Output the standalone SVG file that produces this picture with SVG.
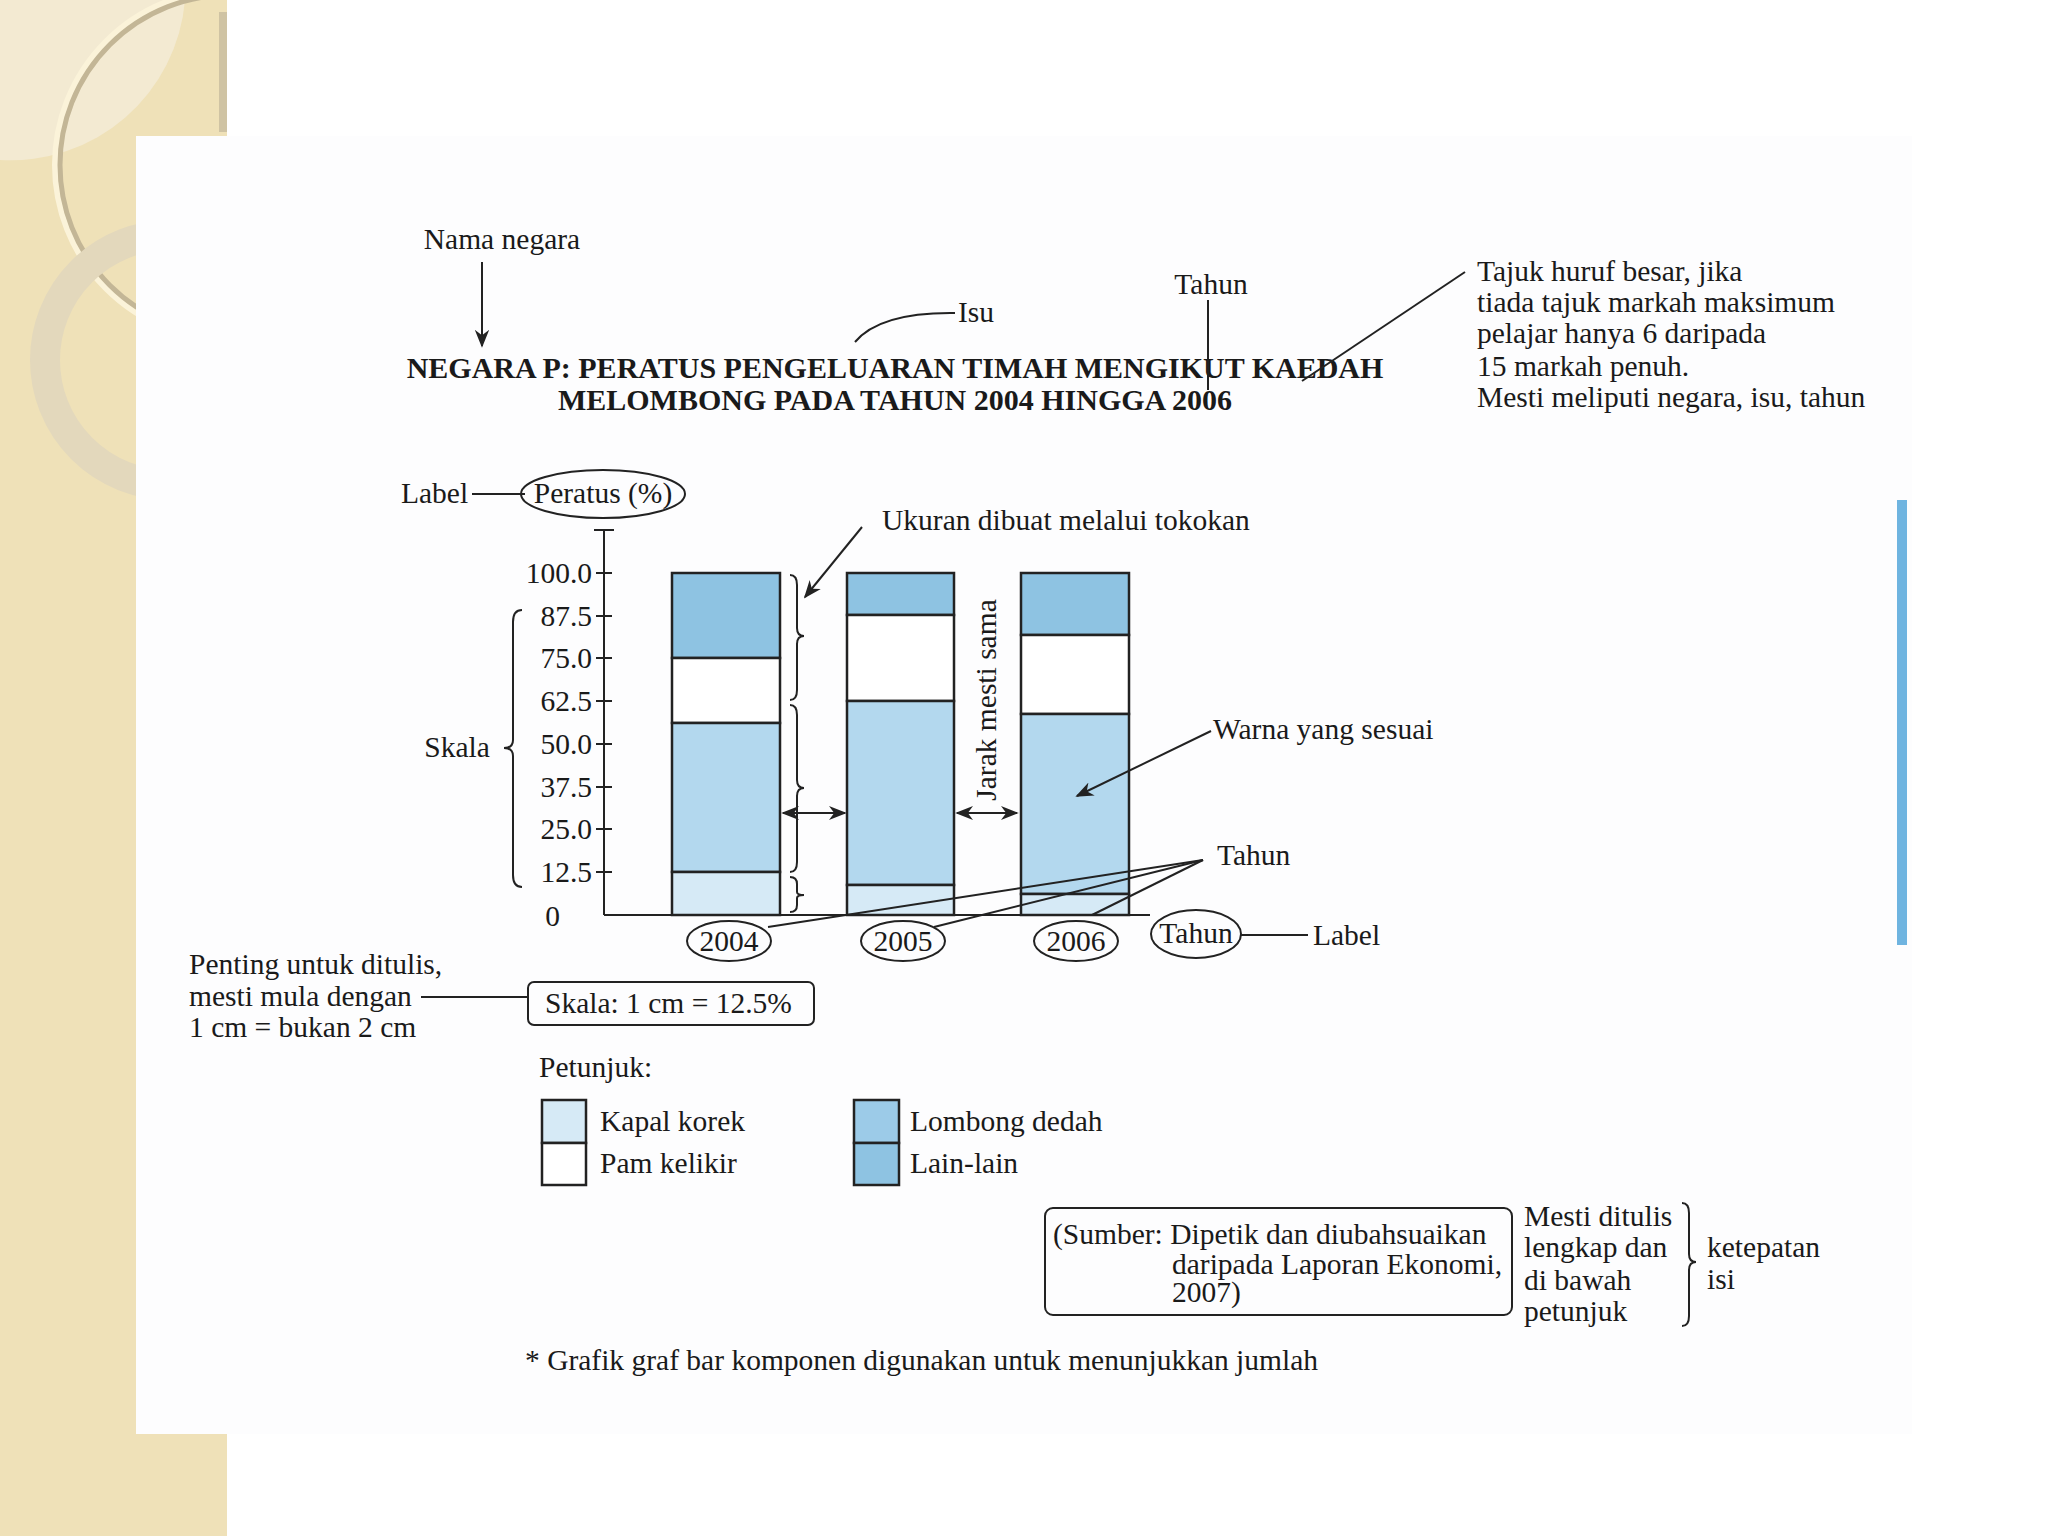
<svg xmlns="http://www.w3.org/2000/svg" width="2048" height="1536" viewBox="0 0 2048 1536">
<defs>
<style>
text{font-family:"Liberation Serif","Times New Roman",serif;font-size:29.5px;fill:#1a1a1a}
.t{font-weight:bold;font-size:30px;text-anchor:middle}
.ln{stroke:#222;stroke-width:2;fill:none}
.bar{stroke:#222;stroke-width:2.5}
.d{fill:#8ec3e2}.m{fill:#b3d8ee}.l{fill:#d6eaf6}.w{fill:#fff}
.r{text-anchor:end}.c{text-anchor:middle}
</style>
<marker id="ah" viewBox="0 0 10 10" refX="9" refY="5" markerWidth="9" markerHeight="9" orient="auto-start-reverse"><path d="M0,1 L10,5 L0,9 L3,5z" fill="#222"/></marker>
<clipPath id="lp"><rect x="0" y="0" width="227" height="1536"/></clipPath>
</defs>
<rect width="2048" height="1536" fill="#fff"/>
<g id="background" clip-path="url(#lp)">
<rect width="227" height="1536" fill="#efe1b8"/>
<path d="M0,0 H185 A175,175 0 0 1 0,160z" fill="#f3ead2"/>
<circle cx="230" cy="165" r="175" fill="none" stroke="#fbf3d9" stroke-width="6"/>
<circle cx="230" cy="165" r="170" fill="none" stroke="#c3b696" stroke-width="5"/>
<circle cx="170" cy="360" r="125" fill="none" stroke="#e3d8bc" stroke-width="30"/>
<rect x="219" y="12" width="8" height="120" fill="#cfc3a3"/>
</g>
<rect x="136" y="136" width="1776" height="1298" fill="#fdfdfe"/>
<rect x="1897" y="500" width="10" height="445" fill="#6fb4e0"/>

<g id="title">
<text class="t" x="895" y="378">NEGARA P: PERATUS PENGELUARAN TIMAH MENGIKUT KAEDAH</text>
<text class="t" x="895" y="410">MELOMBONG PADA TAHUN 2004 HINGGA 2006</text>
</g>
<g id="annotations-top">
<text class="c" x="502" y="249">Nama negara</text>
<text class="c" x="1211" y="294">Tahun</text>
<text x="958" y="322">Isu</text>
<text x="1477" y="281">Tajuk huruf besar, jika</text>
<text x="1477" y="312">tiada tajuk markah maksimum</text>
<text x="1477" y="343">pelajar hanya 6 daripada</text>
<text x="1477" y="376">15 markah penuh.</text>
<text x="1477" y="407">Mesti meliputi negara, isu, tahun</text>
</g>
<g id="axes">
<line class="ln" x1="604" y1="530" x2="604" y2="915"/>
<line class="ln" x1="594" y1="530" x2="614" y2="530"/>
<line class="ln" x1="604" y1="915" x2="1150" y2="915"/>
<g class="ln">
<line x1="596" y1="573" x2="612" y2="573"/><line x1="596" y1="616" x2="612" y2="616"/><line x1="596" y1="658" x2="612" y2="658"/><line x1="596" y1="701" x2="612" y2="701"/><line x1="596" y1="744" x2="612" y2="744"/><line x1="596" y1="787" x2="612" y2="787"/><line x1="596" y1="829" x2="612" y2="829"/><line x1="596" y1="872" x2="612" y2="872"/>
</g>
<text class="r" x="592" y="583">100.0</text><text class="r" x="592" y="626">87.5</text><text class="r" x="592" y="668">75.0</text><text class="r" x="592" y="711">62.5</text><text class="r" x="592" y="754">50.0</text><text class="r" x="592" y="797">37.5</text><text class="r" x="592" y="839">25.0</text><text class="r" x="592" y="882">12.5</text><text class="r" x="560" y="926">0</text>
<text x="401" y="503">Label</text>
<line class="ln" x1="472" y1="494" x2="525" y2="494"/>
<ellipse class="ln" cx="603" cy="494" rx="82" ry="24"/>
<text class="c" x="603" y="503">Peratus (%)</text>
<text class="c" x="457" y="757">Skala</text>
<path class="ln" d="M522,610 Q513,610 513,622 V740 Q513,748 504,748 Q513,748 513,756 V875 Q513,887 522,887"/>
</g>
<g id="bars">
<rect class="bar d" x="672" y="573" width="108" height="85"/><rect class="bar w" x="672" y="658" width="108" height="65"/><rect class="bar m" x="672" y="723" width="108" height="149"/><rect class="bar l" x="672" y="872" width="108" height="43"/>
<rect class="bar d" x="847" y="573" width="107" height="42"/><rect class="bar w" x="847" y="615" width="107" height="86"/><rect class="bar m" x="847" y="701" width="107" height="184"/><rect class="bar l" x="847" y="885" width="107" height="30"/>
<rect class="bar d" x="1021" y="573" width="108" height="62"/><rect class="bar w" x="1021" y="635" width="108" height="79"/><rect class="bar m" x="1021" y="714" width="108" height="180"/><rect class="bar l" x="1021" y="894" width="108" height="21"/>
</g>
<g id="braces" class="ln">
<path d="M790,575 Q797,575 797,585 V628 Q797,636 804,636 Q797,636 797,644 V690 Q797,700 790,700"/>
<path d="M790,705 Q797,705 797,715 V780 Q797,788 804,788 Q797,788 797,796 V862 Q797,872 790,872"/>
<path d="M790,877 Q797,877 797,884 V892 Q797,895 804,895 Q797,895 797,898 V905 Q797,912 790,912"/>
</g>
<g id="years">
<ellipse class="ln" cx="729" cy="941" rx="42" ry="20"/><text class="c" x="729" y="951">2004</text>
<ellipse class="ln" cx="903" cy="941" rx="42" ry="20"/><text class="c" x="903" y="951">2005</text>
<ellipse class="ln" cx="1076" cy="941" rx="42" ry="20"/><text class="c" x="1076" y="951">2006</text>
<ellipse class="ln" cx="1196" cy="934" rx="45" ry="24"/><text class="c" x="1196" y="943">Tahun</text>
<line class="ln" x1="1241" y1="935" x2="1308" y2="935"/>
<text x="1313" y="945">Label</text>
</g>
<g id="connectors">
<line class="ln" x1="482" y1="262" x2="482" y2="346" marker-end="url(#ah)"/>
<line class="ln" x1="1208" y1="300" x2="1208" y2="390"/>
<path class="ln" d="M955,313 Q880,312 855,342"/>
<line class="ln" x1="1465" y1="272" x2="1302" y2="381"/>
<line class="ln" x1="862" y1="527" x2="805" y2="597" marker-end="url(#ah)"/>
<line class="ln" x1="1211" y1="731" x2="1077" y2="796" marker-end="url(#ah)"/>
<line class="ln" x1="783" y1="813" x2="845" y2="813" marker-start="url(#ah)" marker-end="url(#ah)"/>
<line class="ln" x1="957" y1="813" x2="1017" y2="813" marker-start="url(#ah)" marker-end="url(#ah)"/>
<line class="ln" x1="1203" y1="860" x2="768" y2="927"/>
<line class="ln" x1="1203" y1="860" x2="934" y2="927"/>
<line class="ln" x1="1203" y1="860" x2="1092" y2="915"/>
<line class="ln" x1="421" y1="997" x2="528" y2="997"/>
</g>
<g id="chart-notes">
<text x="882" y="530">Ukuran dibuat melalui tokokan</text>
<text x="1213" y="739">Warna yang sesuai</text>
<text x="1217" y="865">Tahun</text>
<text class="c" transform="translate(996,700) rotate(-90)">Jarak mesti sama</text>
</g>
<g id="scale-note">
<text x="189" y="974">Penting untuk ditulis,</text>
<text x="189" y="1006">mesti mula dengan</text>
<text x="189" y="1037">1 cm = bukan 2 cm</text>
<rect class="ln" x="528" y="982" width="286" height="43" rx="6"/>
<text x="545" y="1013">Skala: 1 cm = 12.5%</text>
</g>
<g id="legend">
<text x="539" y="1077">Petunjuk:</text>
<rect class="bar l" x="542" y="1100" width="44" height="43"/><rect class="bar w" x="542" y="1143" width="44" height="42"/>
<text x="600" y="1131">Kapal korek</text><text x="600" y="1173">Pam kelikir</text>
<rect class="bar m" x="854" y="1100" width="45" height="43" style="fill:#9ccbe8"/><rect class="bar d" x="854" y="1143" width="45" height="42"/>
<text x="910" y="1131">Lombong dedah</text><text x="910" y="1173">Lain-lain</text>
</g>
<g id="source">
<rect class="ln" x="1045" y="1208" width="467" height="107" rx="8"/>
<text x="1053" y="1244">(Sumber: Dipetik dan diubahsuaikan</text>
<text x="1172" y="1274">daripada Laporan Ekonomi,</text>
<text x="1172" y="1302">2007)</text>
<text x="1524" y="1226">Mesti ditulis</text>
<text x="1524" y="1257">lengkap dan</text>
<text x="1524" y="1290">di bawah</text>
<text x="1524" y="1321">petunjuk</text>
<path class="ln" d="M1682,1203 Q1689,1203 1689,1213 V1254 Q1689,1262 1696,1262 Q1689,1262 1689,1270 V1316 Q1689,1326 1682,1326"/>
<text x="1707" y="1257">ketepatan</text>
<text x="1707" y="1289">isi</text>
<text x="525" y="1370">* Grafik graf bar komponen digunakan untuk menunjukkan jumlah</text>
</g>
</svg>
